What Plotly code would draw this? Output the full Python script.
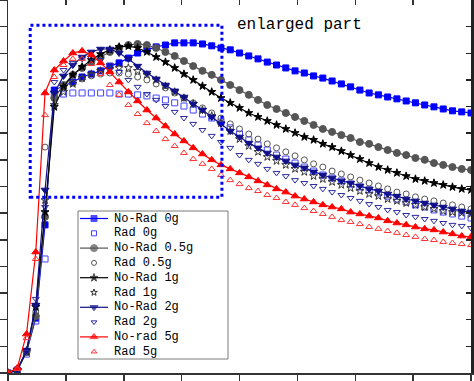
import plotly.graph_objects as go

# ---------------- data ----------------
x_vals = list(range(51))

norad_0g = [0.00, 0.11, 0.79, 2.06, 5.56, 10.62, 10.77, 10.92, 11.11, 11.22, 11.34, 11.52, 11.64, 11.82, 12.01, 12.13,
            12.24, 12.31, 12.39, 12.39, 12.39, 12.35, 12.28, 12.20, 12.13, 12.01, 11.90, 11.79, 11.67, 11.56, 11.45,
            11.34, 11.26, 11.15, 11.07, 10.96, 10.85, 10.74, 10.62, 10.51, 10.44, 10.36, 10.29, 10.21, 10.14, 10.06,
            9.99, 9.91, 9.84, 9.80, 9.76]
rad_0g = [0.00, 0.08, 0.71, 1.95, 4.28, 10.44, 10.47, 10.51, 10.51, 10.51, 10.51, 10.51, 10.47, 10.47, 10.44, 10.40,
          10.32, 10.25, 10.14, 10.02, 9.87, 9.72, 9.57, 9.42, 9.20, 8.97, 8.75, 8.56, 8.37, 8.18, 8.03,
          7.88, 7.73, 7.58, 7.43, 7.32, 7.21, 7.09, 6.98, 6.87, 6.76, 6.64, 6.53, 6.42, 6.31, 6.23,
          6.12, 6.04, 5.97, 5.89, 5.82]
norad_05g = [0.00, 0.11, 0.79, 2.14, 5.86, 10.32, 10.81, 11.19, 11.45, 11.67, 11.86, 12.05, 12.20, 12.31, 12.35, 12.31,
             12.20, 12.05, 11.90, 11.71, 11.52, 11.34, 11.19, 11.00, 10.81, 10.62, 10.44, 10.25, 10.06, 9.91, 9.76,
             9.61, 9.46, 9.31, 9.16, 9.05, 8.93, 8.82, 8.67, 8.60, 8.48, 8.37, 8.26, 8.18, 8.07, 8.00,
             7.88, 7.81, 7.73, 7.66, 7.62]
rad_05g = [0.00, 0.08, 0.79, 2.29, 8.48, 10.36, 10.70, 10.89, 11.04, 11.15, 11.22, 11.26, 11.26, 11.22, 11.11, 11.00,
           10.85, 10.70, 10.51, 10.32, 10.14, 9.95, 9.76, 9.57, 9.35, 9.16, 8.97, 8.78, 8.60, 8.45, 8.30,
           8.15, 8.00, 7.85, 7.73, 7.58, 7.47, 7.36, 7.24, 7.13, 7.02, 6.91, 6.79, 6.72, 6.61, 6.53,
           6.46, 6.38, 6.31, 6.23, 6.16]
norad_1g = [0.00, 0.11, 0.83, 2.48, 6.04, 9.99, 10.74, 11.19, 11.49, 11.75, 11.97, 12.13, 12.24, 12.27, 12.20, 12.05,
            11.86, 11.67, 11.45, 11.22, 11.00, 10.77, 10.55, 10.32, 10.14, 9.95, 9.76, 9.61, 9.46, 9.31, 9.16,
            9.01, 8.86, 8.75, 8.60, 8.48, 8.33, 8.18, 8.03, 7.88, 7.73, 7.62, 7.51, 7.39, 7.28, 7.21,
            7.13, 7.06, 6.98, 6.91, 6.87]
rad_1g = [0.00, 0.08, 0.79, 2.55, 6.49, 10.06, 10.55, 10.85, 11.07, 11.22, 11.34, 11.41, 11.45, 11.45, 11.34, 11.19,
          11.00, 10.77, 10.55, 10.32, 10.10, 9.87, 9.65, 9.38, 9.08, 8.78, 8.52, 8.30, 8.11, 7.96, 7.81,
          7.66, 7.55, 7.39, 7.28, 7.17, 7.06, 6.94, 6.83, 6.72, 6.64, 6.53, 6.46, 6.38, 6.31, 6.23,
          6.16, 6.08, 6.04, 6.01, 5.97]
norad_2g = [0.00, 0.11, 0.86, 2.55, 6.87, 10.51, 11.15, 11.56, 11.86, 12.05, 12.16, 12.16, 12.01, 11.79, 11.52, 11.26,
            11.04, 10.81, 10.59, 10.36, 10.10, 9.87, 9.61, 9.35, 9.08, 8.86, 8.63, 8.45, 8.26, 8.11, 7.96,
            7.81, 7.70, 7.55, 7.43, 7.32, 7.21, 7.13, 7.02, 6.91, 6.83, 6.72, 6.64, 6.53, 6.46, 6.38,
            6.31, 6.23, 6.16, 6.08, 6.04]
rad_2g = [0.00, 0.08, 0.79, 2.78, 6.23, 10.92, 11.37, 11.64, 11.79, 11.82, 11.75, 11.56, 11.30, 11.00, 10.74, 10.47,
          10.25, 10.02, 9.80, 9.57, 9.35, 9.12, 8.90, 8.67, 8.45, 8.18, 8.00, 7.85, 7.66, 7.51, 7.39,
          7.24, 7.13, 7.02, 6.91, 6.79, 6.68, 6.57, 6.46, 6.34, 6.23, 6.12, 6.04, 5.93, 5.86, 5.78,
          5.71, 5.63, 5.56, 5.52, 5.44]
norad_5g = [0.00, 0.19, 1.46, 4.54, 10.51, 11.37, 11.71, 12.01, 12.09, 11.94, 11.64, 11.30, 10.92, 10.55, 10.21, 9.87,
            9.57, 9.27, 8.97, 8.71, 8.45, 8.22, 8.00, 7.81, 7.66, 7.51, 7.36, 7.21, 7.06, 6.91, 6.79,
            6.64, 6.53, 6.42, 6.31, 6.23, 6.16, 6.04, 5.97, 5.89, 5.82, 5.71, 5.63, 5.56, 5.48, 5.41,
            5.37, 5.29, 5.22, 5.14, 5.11]
rad_5g = [0.00, 0.15, 1.31, 4.28, 9.68, 11.11, 11.56, 11.79, 11.79, 11.60, 11.22, 10.81, 10.44, 10.06, 9.72, 9.38,
          9.08, 8.78, 8.52, 8.26, 8.03, 7.85, 7.66, 7.43, 7.24, 7.09, 6.94, 6.83, 6.68, 6.57, 6.42,
          6.31, 6.19, 6.08, 5.97, 5.86, 5.74, 5.67, 5.59, 5.48, 5.41, 5.33, 5.26, 5.18, 5.11, 5.03,
          4.99, 4.92, 4.88, 4.84, 4.80]

series_names = ["No-Rad 0g", "Rad 0g", "No-Rad 0.5g", "Rad 0.5g", "No-Rad 1g", "Rad 1g",
                "No-Rad 2g", "Rad 2g", "No-rad 5g", "Rad 5g"]
series_values = [norad_0g, rad_0g, norad_05g, rad_05g, norad_1g, rad_1g, norad_2g, rad_2g, norad_5g, rad_5g]

# enlarged-part box (data units)
box_x = [2.4, 23.1]
box_y = [6.6, 13.05]
box_label = "enlarged part"

# ---------------- styles ----------------
styles = [
    dict(color="#0000ff", symbol="square", size=6, line=True),
    dict(color="#4444ff", symbol="square-open", size=6, line=False),
    dict(color="#555555", symbol="circle", size=7, line=True),
    dict(color="#555555", symbol="circle-open", size=6, line=False),
    dict(color="#000000", symbol="star", size=6, line=True),
    dict(color="#333333", symbol="star-open", size=6, line=False),
    dict(color="#10108a", symbol="triangle-down", size=7, line=True),
    dict(color="#2a2aa0", symbol="triangle-down-open", size=6, line=False),
    dict(color="#ff0000", symbol="triangle-up", size=7, line=True),
    dict(color="#ff3030", symbol="triangle-up-open", size=6, line=False),
]

fig = go.Figure()

for name, vals, st in zip(series_names, series_values, styles):
    fig.add_trace(go.Scatter(
        x=x_vals, y=vals, name=name, showlegend=False,
        mode="lines+markers" if st["line"] else "markers",
        line=dict(color=st["color"], width=1.2),
        marker=dict(symbol=st["symbol"], size=st["size"], color=st["color"],
                    line=dict(width=1, color=st["color"])),
    ))

# right / top axis helper traces (invisible)
fig.add_trace(go.Scatter(x=[0], y=[0], yaxis="y2", mode="markers",
                         marker=dict(opacity=0), showlegend=False, hoverinfo="skip"))
fig.add_trace(go.Scatter(x=[0], y=[0], xaxis="x2", mode="markers",
                         marker=dict(opacity=0), showlegend=False, hoverinfo="skip"))

# ---------------- custom legend (paper-fraction helper axes) ----------------
W, H = 463.0, 373.0
def fx(px):
    return (px - 8) / W
def fy(py):
    return (373 - py) / H

lg_left, lg_right, lg_top, lg_bot = 78, 228, 211, 359
fig.add_trace(go.Scatter(
    x=[fx(lg_left), fx(lg_right), fx(lg_right), fx(lg_left), fx(lg_left)],
    y=[fy(lg_top), fy(lg_top), fy(lg_bot), fy(lg_bot), fy(lg_top)],
    xaxis="x3", yaxis="y3", mode="lines", fill="toself", fillcolor="white",
    line=dict(color="#7a7a7a", width=1), showlegend=False, hoverinfo="skip"))

for i, (name, st) in enumerate(zip(series_names, styles)):
    yc = fy(218.5 + i * 14.8)
    if st["line"]:
        fig.add_trace(go.Scatter(
            x=[fx(80), fx(94), fx(108)], y=[yc, yc, yc], xaxis="x3", yaxis="y3",
            mode="lines+markers", line=dict(color=st["color"], width=1.2),
            marker=dict(symbol=st["symbol"], size=[0, st["size"], 0], color=st["color"],
                        line=dict(width=1, color=st["color"])),
            showlegend=False, hoverinfo="skip", cliponaxis=False))
    else:
        fig.add_trace(go.Scatter(
            x=[fx(94)], y=[yc], xaxis="x3", yaxis="y3", mode="markers",
            marker=dict(symbol=st["symbol"], size=st["size"] - 1, color=st["color"],
                        line=dict(width=1, color=st["color"])),
            showlegend=False, hoverinfo="skip", cliponaxis=False))
    fig.add_annotation(x=fx(112), y=yc, xref="paper", yref="paper", text=name,
                       showarrow=False, xanchor="left", yanchor="middle",
                       font=dict(family="Liberation Mono", size=12, color="#000"))

# enlarged part box + label
fig.add_shape(type="rect", xref="x", yref="y", x0=box_x[0], x1=box_x[1], y0=box_y[0], y1=box_y[1],
              line=dict(color="#0000ff", width=3, dash="dot"), layer="above")
fig.add_annotation(x=fx(235), y=fy(25), xref="paper", yref="paper", text=box_label,
                   showarrow=False, xanchor="left", yanchor="middle",
                   font=dict(family="Liberation Mono", size=16, color="#000"))

axis_common = dict(showgrid=False, zeroline=False, showticklabels=False, automargin=False)
fig.update_layout(
    template="none",
    width=474, height=381,
    margin=dict(l=8, r=3, t=0, b=8, autoexpand=False),
    paper_bgcolor="white", plot_bgcolor="white",
    hovermode=False,
    xaxis=dict(range=[0, 50], tick0=0, dtick=6.25, ticks="outside", ticklen=8, tickwidth=1.5,
               tickcolor="#333", showline=True, linecolor="#333", linewidth=1.5, **axis_common),
    yaxis=dict(range=[0, 14], tick0=0, dtick=1, ticks="outside", ticklen=7, tickwidth=1.5,
               tickcolor="#333", showline=True, linecolor="#333", linewidth=1.5, **axis_common),
    yaxis2=dict(range=[0, 14], tick0=0, dtick=1, overlaying="y", side="right", ticks="inside",
                ticklen=5, tickwidth=1.5, tickcolor="#222", showline=True, linecolor="#222",
                linewidth=2.5, **axis_common),
    xaxis2=dict(range=[0, 50], tick0=0, dtick=6.25, overlaying="x", side="top", ticks="inside",
                ticklen=5, tickwidth=1.5, tickcolor="#333", showline=False, **axis_common),
    xaxis3=dict(range=[0, 1], overlaying="x", visible=False, automargin=False),
    yaxis3=dict(range=[0, 1], overlaying="y", visible=False, automargin=False),
    showlegend=False,
)

fig.write_html("out.html", config={"displayModeBar": False, "staticPlot": True},
               post_script="document.body.style.margin='0px';document.body.style.overflow='hidden';")
